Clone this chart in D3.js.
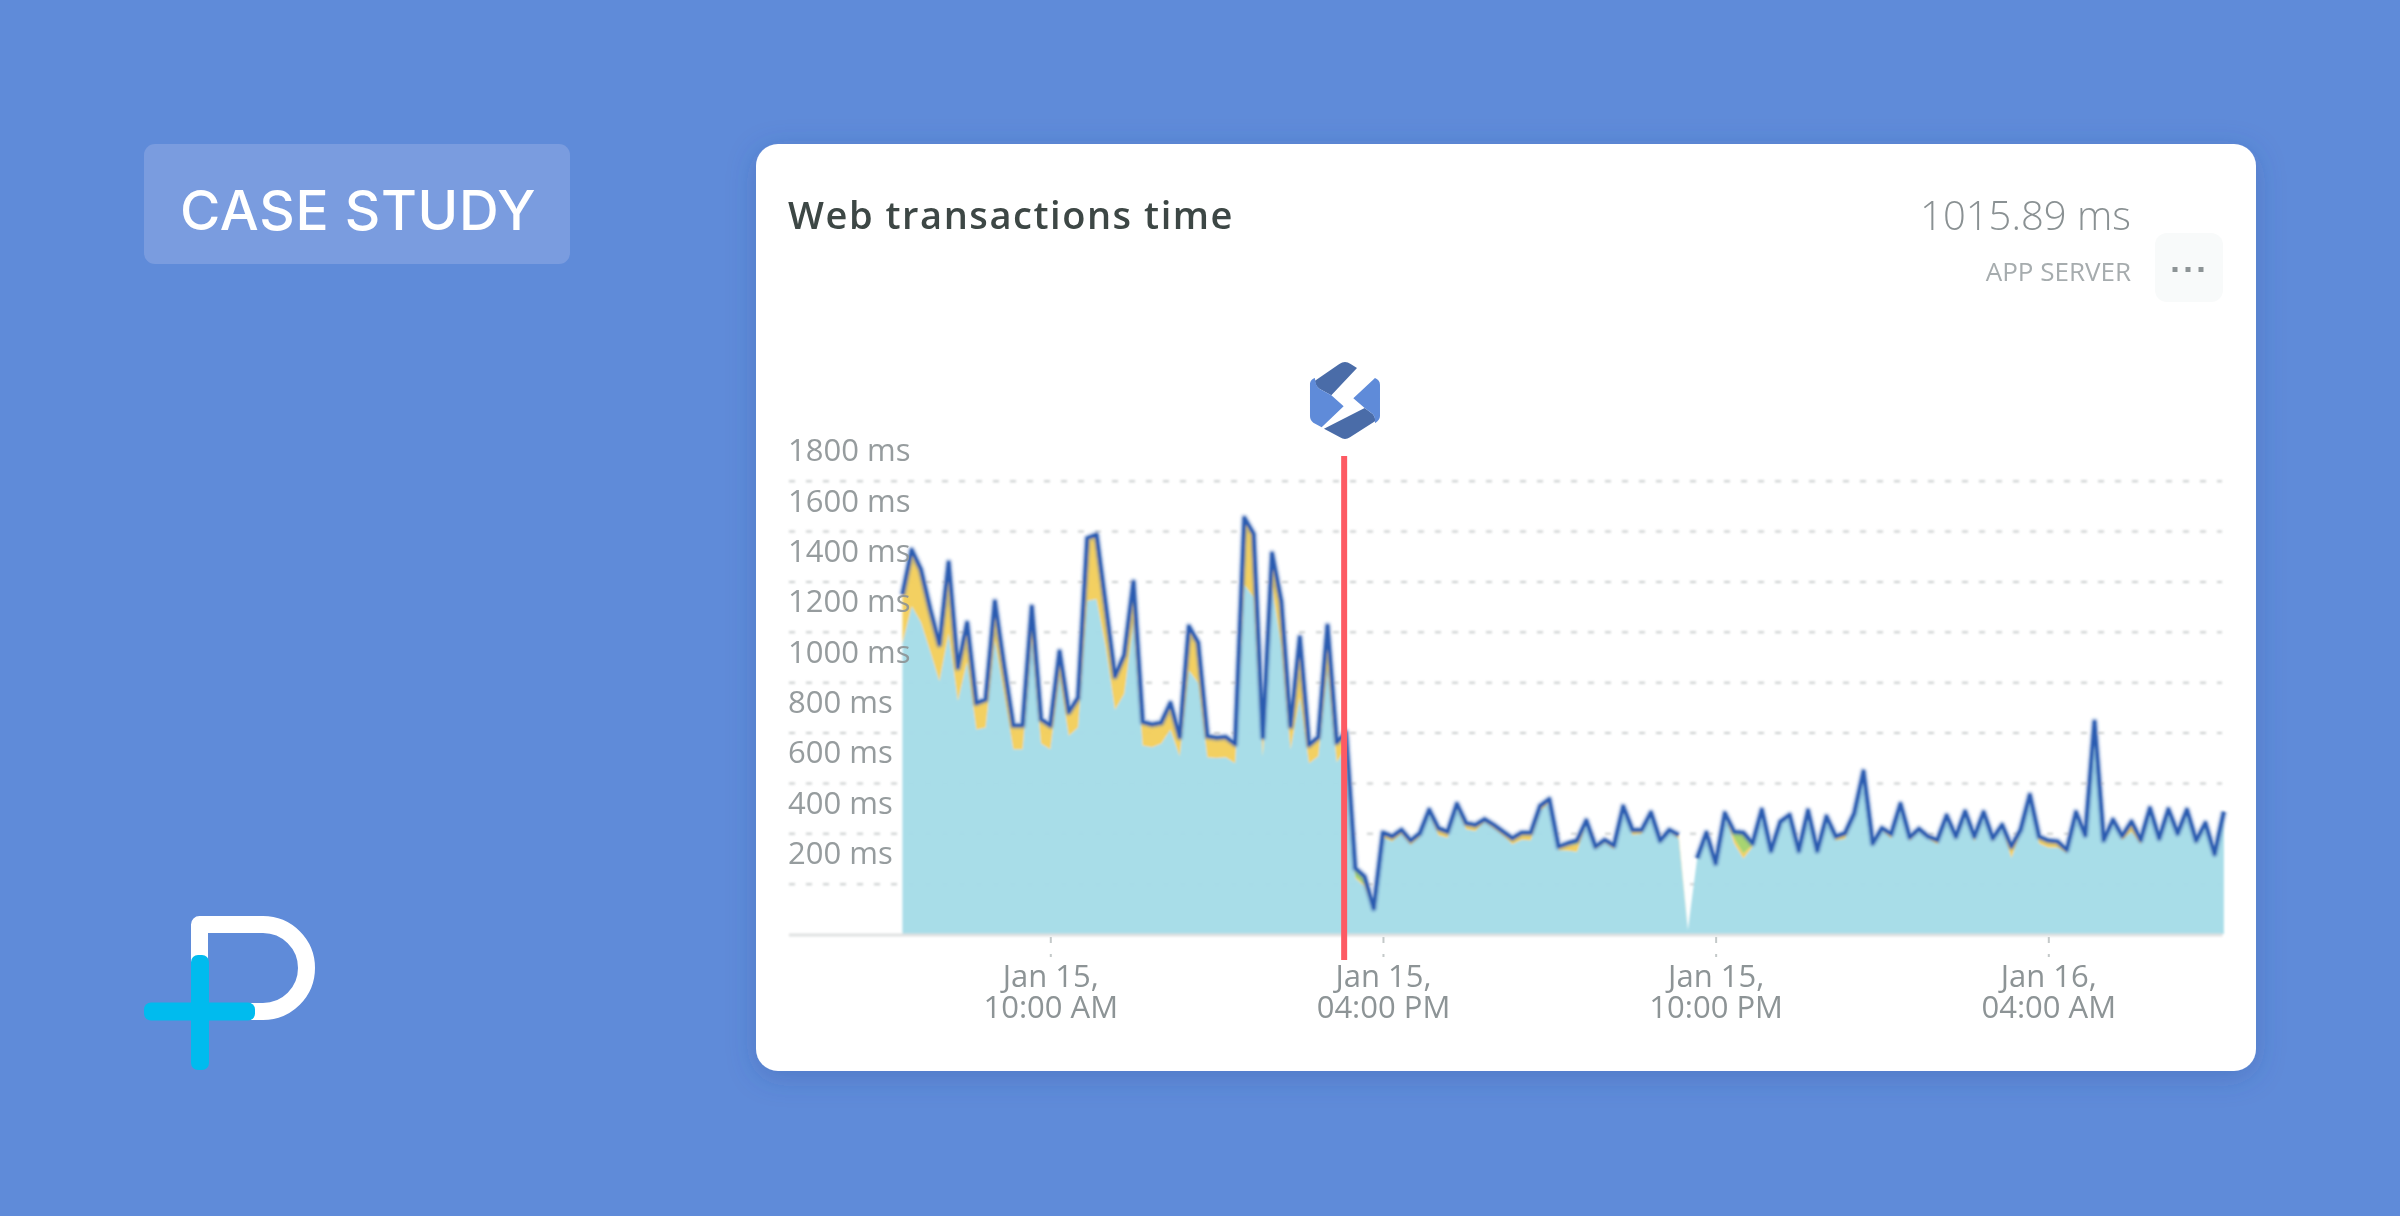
<!DOCTYPE html>
<html>
<head>
<meta charset="utf-8">
<script src="https://cdn.jsdelivr.net/npm/d3@7"></script>
<style>
  html, body { margin: 0; padding: 0; background: #5f8bd9; }
  svg { display: block; }
  text { font-family: "Open Sans", sans-serif; }
</style>
</head>
<body>
<svg id="chart" width="2400" height="1216"></svg>
<script>
// total response time, ms, one reading every 10 minutes
var totalValues = [1348,1525,1447,1291,1150,1475,1058,1235,917,931,1320,1065,828,828,1299,853,828,1122,881,938,
  1572,1586,1306,1023,1108,1398,842,832,839,917,782,1221,1157,785,779,782,754,1652,1589,782,
  1511,1320,825,1178,751,782,1224,761,800,261,228,102,402,387,413,371,400,493,420,406,
  516,440,433,455,433,406,380,402,402,508,535,347,360,371,450,347,373,351,506,413,
  413,482,371,413,393,16,300,402,281,479,406,402,360,493,331,446,473,331,490,331,
  466,387,400,479,645,360,420,397,516,384,417,387,373,470,387,486,387,483,380,433,
  347,413,552,387,371,367,334,483,393,843,373,453,389,446,373,499,380,495,400,493,
  371,440,318,486];
var yellowValues = [195,223,209,167,146,280,132,153,105,111,153,111,94,94,132,97,94,97,94,118,
  249,256,167,133,154,160,93,90,83,105,76,174,160,83,80,80,76,265,252,76,
  131,181,91,238,73,76,171,79,60,5,8,8,20,20,16,18,14,14,28,24,
  16,24,24,10,14,16,24,28,30,20,14,14,22,30,10,10,10,14,6,20,
  16,8,10,6,14,0,0,2,2,4,20,20,8,6,4,4,4,8,2,8,
  6,16,22,10,5,10,8,18,5,14,8,8,18,4,12,4,20,5,12,8,
  45,8,15,28,28,24,12,5,8,5,8,5,16,40,16,5,12,4,8,4,
  12,5,4,4];
var greenValues = [0,0,0,0,0,0,0,0,0,0,0,0,0,0,0,0,0,0,0,0,
  0,0,0,0,0,0,0,0,0,0,0,0,0,0,0,0,0,0,0,0,
  0,0,0,0,0,0,0,0,0,35,30,0,0,0,0,0,0,0,0,0,
  0,0,0,0,0,0,0,0,0,0,0,0,6,14,0,0,0,0,0,0,
  0,0,0,0,0,0,0,0,0,0,26,82,6,0,0,0,0,0,0,0,
  0,0,0,0,0,0,0,0,0,0,0,0,0,0,0,0,0,0,0,0,
  0,0,0,0,0,0,0,0,0,0,0,0,0,0,0,0,0,0,0,0,
  0,0,0,0];
var missingLinePoints = [85];
var yTicks = [200,400,600,800,1000,1200,1400,1600,1800];
var xTicks = [Date.UTC(2019,0,15,10), Date.UTC(2019,0,15,16), Date.UTC(2019,0,15,22), Date.UTC(2019,0,16,4)];
var xTickLabels = [['Jan 15,','10:00 AM'],['Jan 15,','04:00 PM'],['Jan 15,','10:00 PM'],['Jan 16,','04:00 AM']];
var deployTime = Date.UTC(2019,0,15,15,18);
var seriesKeys = ['base','yellow','green'];
var seriesColors = ['#a6dce8','#f3cf5e','#a5d36e'];

var svg = d3.select('#chart');
var times = d3.utcMinute.range(Date.UTC(2019,0,15,7,20), Date.UTC(2019,0,16,7,20), 10);

var x = d3.scaleUtc().domain([xTicks[0], xTicks[3]]).range([1050.3, 2048.3]);
var y = d3.scaleLinear().domain([0, 1800]).range([934, 480.7]);
var color = d3.scaleOrdinal().domain(seriesKeys).range(seriesColors);

var rows = totalValues.map(function(total, i) {
    return {
        time: times[i],
        total: total,
        base: total - yellowValues[i] - greenValues[i],
        yellow: yellowValues[i],
        green: greenValues[i]
    };
});

var defs = svg.append('defs');
var shadow = defs.append('filter').attr('id', 'cardShadow')
    .attr('x', '-5%').attr('y', '-5%').attr('width', '110%').attr('height', '112%');
shadow.append('feDropShadow').attr('dx', 0).attr('dy', 6).attr('stdDeviation', 14)
    .attr('flood-color', '#2b4f96').attr('flood-opacity', 0.3);
defs.append('filter').attr('id', 'soft').attr('x', '-2%').attr('y', '-2%').attr('width', '104%').attr('height', '104%')
    .append('feGaussianBlur').attr('stdDeviation', 0.8);
defs.append('filter').attr('id', 'softText').attr('x', '-5%').attr('y', '-20%').attr('width', '110%').attr('height', '140%')
    .append('feGaussianBlur').attr('stdDeviation', 0.6);

// left side, badge and logo
svg.append('rect').attr('x', 144).attr('y', 144).attr('width', 426).attr('height', 120).attr('rx', 11)
    .attr('fill', '#7a9cdf');
svg.append('text').attr('x', 180).attr('y', 230)
    .style('font-family', 'Inter, sans-serif').style('font-size', '55px').style('font-weight', 500).style('letter-spacing', '0.7px')
    .attr('fill', '#fff').text('CASE STUDY');

svg.append('path')
    .attr('d', 'M199.5,962 V924.5 H263 A43.5,43.5 0 0 1 263,1011.5 H250')
    .attr('fill', 'none').attr('stroke', '#fff').attr('stroke-width', 17).attr('stroke-linejoin', 'round');
svg.append('rect').attr('x', 191).attr('y', 955).attr('width', 18).attr('height', 115).attr('rx', 7).attr('fill', '#00bbee');
svg.append('rect').attr('x', 144).attr('y', 1002.5).attr('width', 111).attr('height', 18).attr('rx', 7).attr('fill', '#00bbee');

// card
svg.append('rect').attr('x', 756).attr('y', 144).attr('width', 1500).attr('height', 927).attr('rx', 22)
    .attr('fill', '#fff').attr('filter', 'url(#cardShadow)');

svg.append('text').attr('x', 788).attr('y', 229).attr('filter', 'url(#softText)')
    .style('font-size', '38px').style('font-weight', 600).style('letter-spacing', '1.55px')
    .attr('fill', '#3c4644').text('Web transactions time');
svg.append('text').attr('x', 2131).attr('y', 230).attr('text-anchor', 'end').attr('filter', 'url(#softText)')
    .style('font-size', '40px').style('font-weight', 300)
    .attr('fill', '#8a9193').text('1015.89 ms');
svg.append('text').attr('x', 2131).attr('y', 280.5).attr('text-anchor', 'end').attr('filter', 'url(#softText)')
    .style('font-size', '26px').attr('fill', '#a6acae').text('APP SERVER');

svg.append('rect').attr('x', 2155).attr('y', 233).attr('width', 68).attr('height', 69).attr('rx', 12).attr('fill', '#f8fafa');
svg.selectAll('.dot').data([2175, 2188, 2201]).enter().append('rect')
    .attr('class', 'dot').attr('x', function(d) { return d - 2.5; }).attr('y', 267)
    .attr('width', 5).attr('height', 5).attr('fill', '#8d9496');

// chart, slightly softened like the screenshot
var plot = svg.append('g').attr('filter', 'url(#soft)');

var grid = plot.append('g').attr('class', 'grid')
    .attr('transform', 'translate(789,0)')
    .call(d3.axisRight(y).tickValues(yTicks).tickSize(1433).tickFormat(''));
grid.select('.domain').remove();
grid.selectAll('line').attr('stroke', '#c9cdcd').attr('stroke-width', 2).attr('stroke-dasharray', '6 11');

var stack = d3.stack().keys(seriesKeys);
var area = d3.area()
    .x(function(d) { return x(d.data.time); })
    .y0(function(d) { return y(d[0]); })
    .y1(function(d) { return y(d[1]); });

plot.append('g').selectAll('path').data(stack(rows)).enter().append('path')
    .attr('d', area)
    .attr('fill', function(d) { return color(d.key); })
    .attr('fill-opacity', 0.98);

plot.append('line').attr('x1', 789).attr('x2', 2222.5).attr('y1', 935).attr('y2', 935)
    .attr('stroke', '#dfe1e1').attr('stroke-width', 3);

var line = d3.line()
    .defined(function(d, i) { return missingLinePoints.indexOf(i) < 0; })
    .x(function(d) { return x(d.time); })
    .y(function(d) { return y(d.total); });

plot.append('path').datum(rows).attr('d', line)
    .attr('fill', 'none').attr('stroke', '#3f6cb8').attr('stroke-opacity', 0.28)
    .attr('stroke-width', 8).attr('stroke-linejoin', 'round');
plot.append('path').datum(rows).attr('d', line)
    .attr('fill', 'none').attr('stroke', '#2a5bb0')
    .attr('stroke-width', 3.6).attr('stroke-linejoin', 'round');

// axes labels
var yAxis = svg.append('g').attr('transform', 'translate(788,0)').attr('filter', 'url(#softText)')
    .call(d3.axisRight(y).tickValues(yTicks).tickSize(0).tickPadding(0).tickFormat(function(d) { return d + ' ms'; }));
yAxis.select('.domain').remove();
yAxis.selectAll('text').attr('dy', '-20')
    .style('font-family', '"Open Sans", sans-serif').style('font-size', '31px').attr('fill', '#8d9496').attr('fill-opacity', 0.92);

var xAxis = svg.append('g').attr('transform', 'translate(0,937)').attr('filter', 'url(#softText)')
    .call(d3.axisBottom(x).tickValues(xTicks).tickSize(20).tickFormat(''));
xAxis.select('.domain').remove();
xAxis.selectAll('line').attr('stroke', '#c4c9c9').attr('stroke-width', 2).attr('stroke-dasharray', '6 11');
var labels = xAxis.selectAll('.tick').append('text')
    .attr('text-anchor', 'middle')
    .style('font-family', '"Open Sans", sans-serif').style('font-size', '31px').attr('fill', '#8d9496');
labels.data(xTickLabels).selectAll('tspan')
    .data(function(d) { return d; }).enter().append('tspan')
    .attr('x', 0).attr('y', function(d, i) { return 50 + i * 31; })
    .text(function(d) { return d; });

// deploy marker
svg.append('line').attr('x1', x(deployTime)).attr('x2', x(deployTime)).attr('y1', 456).attr('y2', 960)
    .attr('stroke', '#fd5a63').attr('stroke-width', 6);

var icon = svg.append('g').attr('transform', 'translate(1260,340) scale(0.3333)');
var iconDark = ['M165,122 L238,72 Q255,60 272,72 L291,84 L214,166 L178,146 Q165,136 165,122 Z',
                'M192,266 L314,204 L338,222 Q347,232 345,244 L270,292 Q255,302 240,292 Z'];
var iconLight = ['M150,130 Q152,118 165,114 Q165,136 178,146 L214,166 L251,199 L185,262 L160,248 Q150,240 150,228 Z',
                 'M280,175 L345,114 Q360,120 360,134 L360,228 Q360,240 345,250 Q347,232 338,222 L314,204 Z'];
icon.selectAll('.dark').data(iconDark).enter().append('path').attr('class', 'dark').attr('d', function(d) { return d; }).attr('fill', '#4a6ca8');
icon.selectAll('.light').data(iconLight).enter().append('path').attr('class', 'light').attr('d', function(d) { return d; }).attr('fill', '#5f8bd9');
</script>
</body>
</html>
